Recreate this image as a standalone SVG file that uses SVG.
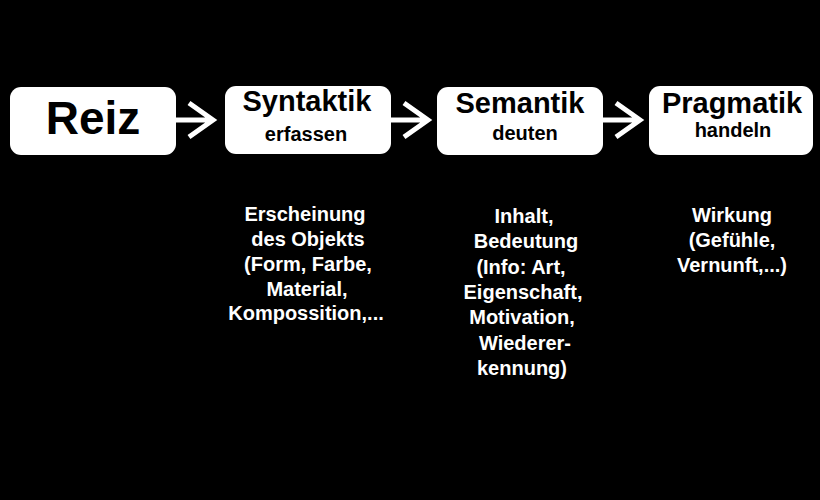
<svg xmlns="http://www.w3.org/2000/svg" width="820" height="500" viewBox="0 0 820 500">
<style>
.box{fill:#fff}
.t{font-family:"Liberation Sans",Arial,Helvetica,sans-serif;font-weight:bold;text-anchor:middle}
.title{font-size:29px;fill:#000}
.sub{font-size:20px;fill:#000}
.desc{font-size:20px;fill:#fff}
.arr{fill:none;stroke:#fff;stroke-width:5}
</style>
<rect x="0" y="0" width="820" height="500" fill="#000"/>
<g id="reiz">
<rect class="box" x="10" y="87" width="166" height="68" rx="11"/>
<text class="t" x="93" y="134" style="font-size:46px;fill:#000">Reiz</text>
</g>
<g id="syntaktik">
<rect class="box" x="225" y="86" width="166" height="68" rx="11"/>
<text class="t title" x="307" y="111">Syntaktik</text>
<text class="t sub" x="306" y="141">erfassen</text>
</g>
<g id="semantik">
<rect class="box" x="437" y="87" width="166" height="68" rx="11"/>
<text class="t title" x="520" y="113">Semantik</text>
<text class="t sub" x="525" y="140">deuten</text>
</g>
<g id="pragmatik">
<rect class="box" x="649" y="86" width="164" height="69" rx="11"/>
<text class="t title" x="732" y="113">Pragmatik</text>
<text class="t sub" x="733" y="137">handeln</text>
</g>
<g id="connectors">
<path class="arr" d="M176,120H212M189,103L213,120L189,137"/>
<path class="arr" d="M391,120H427M404,103L428,120L404,137"/>
<path class="arr" d="M603,120H637M616,103L640,120L616,137"/>
</g>
<g id="desc-syntaktik">
<text class="t desc" x="305" y="221">Erscheinung</text>
<text class="t desc" x="308" y="246">des Objekts</text>
<text class="t desc" x="308" y="271">(Form, Farbe,</text>
<text class="t desc" x="307" y="296">Material,</text>
<text class="t desc" x="306" y="320">Kompossition,...</text>
</g>
<g id="desc-semantik">
<text class="t desc" x="524" y="223">Inhalt,</text>
<text class="t desc" x="526" y="248">Bedeutung</text>
<text class="t desc" x="521" y="274">(Info: Art,</text>
<text class="t desc" x="523" y="299">Eigenschaft,</text>
<text class="t desc" x="522" y="324">Motivation,</text>
<text class="t desc" x="525" y="350">Wiederer-</text>
<text class="t desc" x="522" y="375">kennung)</text>
</g>
<g id="desc-pragmatik">
<text class="t desc" x="732" y="222">Wirkung</text>
<text class="t desc" x="732" y="247">(Gefühle,</text>
<text class="t desc" x="732" y="272">Vernunft,...)</text>
</g>
</svg>
